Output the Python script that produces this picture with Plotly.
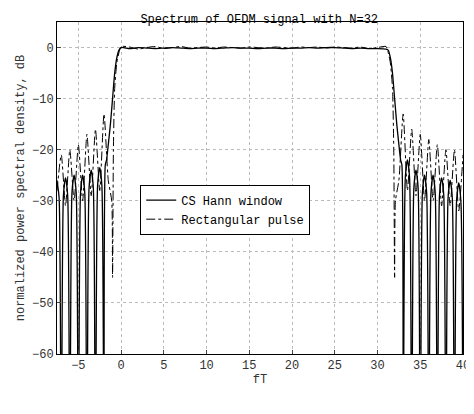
import plotly.graph_objects as go

# CS Hann window
hann_x = [-7.5,-7.25,-7,-6.75,-6.5,-6.25,-6,-5.75,-5.5,-5.25,-5,-4.75,-4.5,-4.25,-4,-3.75,-3.5,-3.25,-3,-2.75,-2.5,-2.25,-2,
          -1.85,-1.7,-1.5,-1.25,-1,-0.75,-0.5,-0.25,0,
          1,2,3,4,5,6,7,8,9,10,11,12,13,14,15,16,17,18,19,20,21,22,23,24,25,26,27,28,29,30,31,
          31.25,31.5,31.75,32,32.25,32.5,32.7,32.85,33,33.25,33.5,33.75,34,34.25,34.5,34.75,35,35.25,35.5,35.75,36,36.25,36.5,36.75,37,
          37.25,37.5,37.75,38,38.25,38.5,38.75,39,39.25,39.5,39.75,40]
hann_y = [-26,-29.5,-90,-29,-25.5,-29,-90,-28.5,-25,-28.5,-90,-28.5,-25,-28.5,-90,-27.5,-24,-27.5,-90,-27,-23.5,-27,-90,
          -23,-22,-19,-15,-10,-5,-2,-0.5,0,
          -0.2,0,-0.1,-0.2,-0.1,0,-0.1,-0.2,-0.1,-0.1,-0.2,-0.1,0,-0.1,-0.1,-0.2,-0.1,-0.1,-0.2,-0.1,-0.1,0,-0.1,0,0,-0.1,-0.2,-0.1,-0.2,-0.2,-0.3,
          -0.5,-2,-5,-10,-15,-19,-22,-23,-90,-25.5,-22,-25.5,-90,-27.5,-24,-27.5,-90,-28.5,-25,-28.5,-90,-28.5,-25,-28.5,-90,
          -29,-25.5,-29,-90,-29.5,-26,-29.5,-90,-30,-26.5,-30,-90]

# Rectangular pulse
rect_x = [-7.5,-7,-6.5,-6,-5.5,-5,-4.5,-4,-3.5,-3,-2.5,-2,-1.5,-1.1,-1,-0.9,-0.75,-0.5,-0.25,0,
          1,2,3,4,5,6,7,8,9,10,11,12,13,14,15,16,17,18,19,20,21,22,23,24,25,26,27,28,29,30,31,
          31.25,31.5,31.75,31.9,32,32.1,32.5,33,33.5,34,34.5,35,35.5,36,36.5,37,37.5,38,38.5,39,39.5,40]
rect_y = [-28,-21,-31,-20,-30,-19,-30,-17,-29,-16,-28,-13,-26,-30,-45,-20,-8,-3,-1,0.2,
          0.1,-0.3,0,0.2,-0.2,0,0.2,-0.1,0,0.1,-0.1,0.1,0,-0.1,0.1,0,-0.1,0.1,0,-0.1,0.1,0,0.1,-0.1,0.1,0,-0.1,0.1,-0.2,0,0.2,
          -1,-3,-8,-20,-45,-30,-26,-13,-28,-16,-29,-17,-30,-18,-30,-19,-31,-20,-31,-20,-32,-21]

fnt = "Liberation Mono, Courier New, monospace"
fig = go.Figure()
fig.add_trace(go.Scatter(x=hann_x, y=hann_y, mode="lines", name="CS Hann window",
                         line=dict(color="black", width=1.3, shape="spline", smoothing=0.6)))
fig.add_trace(go.Scatter(x=rect_x, y=rect_y, mode="lines", name="Rectangular pulse",
                         line=dict(color="black", width=1, dash="dashdot", shape="spline", smoothing=0.6)))
ax = dict(showline=True, linecolor="black", mirror=True, ticks="inside", ticklen=4,
          showgrid=True, gridcolor="#bbb", griddash="dot", gridwidth=1, zeroline=False,
          tickfont=dict(family=fnt, size=12, color="#333"))
fig.update_layout(
    width=474, height=414, plot_bgcolor="white", paper_bgcolor="white",
    font=dict(family=fnt, size=12, color="black"),
    margin=dict(l=42, r=12, t=14, b=68),
    title=dict(text="Spectrum of OFDM signal with N=32", x=0.53, y=0.985, yanchor="top",
               font=dict(family=fnt, size=12, color="black")),
    xaxis=dict(range=[-7.5, 40], tickvals=[-5,0,5,10,15,20,25,30,35,40],
               title=dict(text="fT", font=dict(family=fnt, size=12, color="#333"), standoff=2), **ax),
    yaxis=dict(range=[-60, 5], tickvals=[-60,-50,-40,-30,-20,-10,0],
               title=dict(text="normalized power spectral density, dB", font=dict(family=fnt, size=12, color="#333"), standoff=4), **ax),
    legend=dict(x=0.205, y=0.51, xanchor="left", yanchor="top", bordercolor="black", borderwidth=1,
                bgcolor="white", font=dict(family=fnt, size=12, color="black"), tracegroupgap=0),
    showlegend=True,
)
fig.write_html("out.html")
